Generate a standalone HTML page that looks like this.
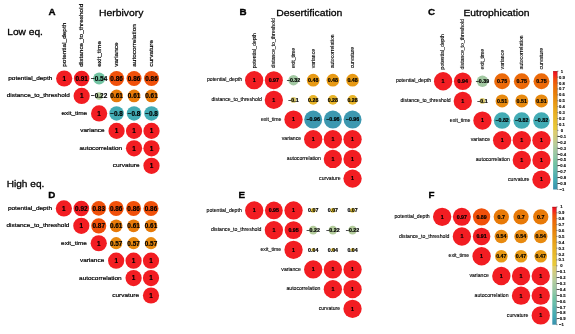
<!DOCTYPE html>
<html><head><meta charset="utf-8"><style>
html,body{margin:0;padding:0;background:#fff;}
body{width:575px;height:334px;overflow:hidden;}
svg{display:block;font-family:"Liberation Sans",Arial,sans-serif;fill:#000;}
.n{stroke:#000;stroke-width:0.18;}
.l{stroke:#000;stroke-width:0.22;}
.s{stroke:#000;stroke-width:0.12;}
.g{stroke:#000;stroke-width:0.1;}
.t{stroke:#000;stroke-width:0.35;}
.h{stroke:#000;stroke-width:0.3;}
</style></head><body>
<svg width="575" height="334" viewBox="0 0 575 334">
<text class="l" transform="translate(65.94,66.77) rotate(-90) scale(1,0.88)" font-size="6.45">potential_depth</text>
<text class="l" transform="translate(83.40,66.77) rotate(-90) scale(1,0.88)" font-size="6.45">distance_to_threshold</text>
<text class="l" transform="translate(100.86,66.77) rotate(-90) scale(1,0.88)" font-size="6.45">exit_time</text>
<text class="l" transform="translate(118.32,66.77) rotate(-90) scale(1,0.88)" font-size="6.45">variance</text>
<text class="l" transform="translate(135.78,66.77) rotate(-90) scale(1,0.88)" font-size="6.45">autocorrelation</text>
<text class="l" transform="translate(153.24,66.77) rotate(-90) scale(1,0.88)" font-size="6.45">curvature</text>
<text class="l" transform="translate(52.27,79.92) scale(1,0.88)" font-size="6.45" text-anchor="end">potential_depth</text>
<circle cx="64.20" cy="78.50" r="8.12" fill="#F21D22"/>
<text x="64.20" y="80.77" font-size="6.40" text-anchor="middle" font-weight="bold" class="n">1</text>
<circle cx="81.66" cy="78.50" r="7.74" fill="#F21D22"/>
<text x="81.66" y="80.77" font-size="6.40" text-anchor="middle" font-weight="bold" class="n">0.91</text>
<circle cx="99.12" cy="78.50" r="5.97" fill="#72C3A2"/>
<text x="99.12" y="80.77" font-size="6.40" text-anchor="middle" font-weight="bold" class="n">−0.54</text>
<circle cx="116.58" cy="78.50" r="7.53" fill="#F0500A"/>
<text x="116.58" y="80.77" font-size="6.40" text-anchor="middle" font-weight="bold" class="n">0.86</text>
<circle cx="134.04" cy="78.50" r="7.53" fill="#F0500A"/>
<text x="134.04" y="80.77" font-size="6.40" text-anchor="middle" font-weight="bold" class="n">0.86</text>
<circle cx="151.50" cy="78.50" r="7.53" fill="#F0500A"/>
<text x="151.50" y="80.77" font-size="6.40" text-anchor="middle" font-weight="bold" class="n">0.86</text>
<text class="l" transform="translate(69.73,97.38) scale(1,0.88)" font-size="6.45" text-anchor="end">distance_to_threshold</text>
<circle cx="81.66" cy="95.96" r="8.12" fill="#F21D22"/>
<text x="81.66" y="98.23" font-size="6.40" text-anchor="middle" font-weight="bold" class="n">1</text>
<circle cx="99.12" cy="95.96" r="3.81" fill="#B4CC9C"/>
<text x="99.12" y="98.23" font-size="6.40" text-anchor="middle" font-weight="bold" class="n">−0.22</text>
<circle cx="116.58" cy="95.96" r="6.34" fill="#E87A08"/>
<text x="116.58" y="98.23" font-size="6.40" text-anchor="middle" font-weight="bold" class="n">0.61</text>
<circle cx="134.04" cy="95.96" r="6.34" fill="#E87A08"/>
<text x="134.04" y="98.23" font-size="6.40" text-anchor="middle" font-weight="bold" class="n">0.61</text>
<circle cx="151.50" cy="95.96" r="6.34" fill="#E87A08"/>
<text x="151.50" y="98.23" font-size="6.40" text-anchor="middle" font-weight="bold" class="n">0.61</text>
<text class="l" transform="translate(87.19,114.84) scale(1,0.88)" font-size="6.45" text-anchor="end">exit_time</text>
<circle cx="99.12" cy="113.42" r="8.12" fill="#F21D22"/>
<text x="99.12" y="115.69" font-size="6.40" text-anchor="middle" font-weight="bold" class="n">1</text>
<circle cx="116.58" cy="113.42" r="7.26" fill="#42ABB4"/>
<text x="116.58" y="115.69" font-size="6.40" text-anchor="middle" font-weight="bold" class="n">−0.8</text>
<circle cx="134.04" cy="113.42" r="7.26" fill="#42ABB4"/>
<text x="134.04" y="115.69" font-size="6.40" text-anchor="middle" font-weight="bold" class="n">−0.8</text>
<circle cx="151.50" cy="113.42" r="7.26" fill="#42ABB4"/>
<text x="151.50" y="115.69" font-size="6.40" text-anchor="middle" font-weight="bold" class="n">−0.8</text>
<text class="l" transform="translate(104.65,132.30) scale(1,0.88)" font-size="6.45" text-anchor="end">variance</text>
<circle cx="116.58" cy="130.88" r="8.12" fill="#F21D22"/>
<text x="116.58" y="133.15" font-size="6.40" text-anchor="middle" font-weight="bold" class="n">1</text>
<circle cx="134.04" cy="130.88" r="8.12" fill="#F21D22"/>
<text x="134.04" y="133.15" font-size="6.40" text-anchor="middle" font-weight="bold" class="n">1</text>
<circle cx="151.50" cy="130.88" r="8.12" fill="#F21D22"/>
<text x="151.50" y="133.15" font-size="6.40" text-anchor="middle" font-weight="bold" class="n">1</text>
<text class="l" transform="translate(122.11,149.76) scale(1,0.88)" font-size="6.45" text-anchor="end">autocorrelation</text>
<circle cx="134.04" cy="148.34" r="8.12" fill="#F21D22"/>
<text x="134.04" y="150.61" font-size="6.40" text-anchor="middle" font-weight="bold" class="n">1</text>
<circle cx="151.50" cy="148.34" r="8.12" fill="#F21D22"/>
<text x="151.50" y="150.61" font-size="6.40" text-anchor="middle" font-weight="bold" class="n">1</text>
<text class="l" transform="translate(139.57,167.22) scale(1,0.88)" font-size="6.45" text-anchor="end">curvature</text>
<circle cx="151.50" cy="165.80" r="8.12" fill="#F21D22"/>
<text x="151.50" y="168.07" font-size="6.40" text-anchor="middle" font-weight="bold" class="n">1</text>
<text class="s" transform="translate(255.54,68.36) rotate(-90) scale(1,0.88)" font-size="5.15">potential_depth</text>
<text class="s" transform="translate(275.22,68.36) rotate(-90) scale(1,0.88)" font-size="5.15">distance_to_threshold</text>
<text class="s" transform="translate(294.90,68.36) rotate(-90) scale(1,0.88)" font-size="5.15">exit_time</text>
<text class="s" transform="translate(314.58,68.36) rotate(-90) scale(1,0.88)" font-size="5.15">variance</text>
<text class="s" transform="translate(334.26,68.36) rotate(-90) scale(1,0.88)" font-size="5.15">autocorrelation</text>
<text class="s" transform="translate(353.94,68.36) rotate(-90) scale(1,0.88)" font-size="5.15">curvature</text>
<text class="s" transform="translate(242.11,81.33) scale(1,0.88)" font-size="5.15" text-anchor="end">potential_depth</text>
<circle cx="254.15" cy="80.20" r="9.15" fill="#F21D22"/>
<text x="254.15" y="82.08" font-size="5.30" text-anchor="middle" font-weight="bold" class="n">1</text>
<circle cx="273.83" cy="80.20" r="9.01" fill="#F21D22"/>
<text x="273.83" y="82.08" font-size="5.30" text-anchor="middle" font-weight="bold" class="n">0.97</text>
<circle cx="293.51" cy="80.20" r="5.18" fill="#A2C8A2"/>
<text x="293.51" y="82.08" font-size="5.30" text-anchor="middle" font-weight="bold" class="n">−0.32</text>
<circle cx="313.19" cy="80.20" r="6.34" fill="#E89A14"/>
<text x="313.19" y="82.08" font-size="5.30" text-anchor="middle" font-weight="bold" class="n">0.48</text>
<circle cx="332.87" cy="80.20" r="6.34" fill="#E89A14"/>
<text x="332.87" y="82.08" font-size="5.30" text-anchor="middle" font-weight="bold" class="n">0.48</text>
<circle cx="352.55" cy="80.20" r="6.34" fill="#E89A14"/>
<text x="352.55" y="82.08" font-size="5.30" text-anchor="middle" font-weight="bold" class="n">0.48</text>
<text class="s" transform="translate(261.79,101.01) scale(1,0.88)" font-size="5.15" text-anchor="end">distance_to_threshold</text>
<circle cx="273.83" cy="99.88" r="9.15" fill="#F21D22"/>
<text x="273.83" y="101.76" font-size="5.30" text-anchor="middle" font-weight="bold" class="n">1</text>
<circle cx="293.51" cy="99.88" r="2.89" fill="#DCCC70"/>
<text x="293.51" y="101.76" font-size="5.30" text-anchor="middle" font-weight="bold" class="n">−0.1</text>
<circle cx="313.19" cy="99.88" r="4.84" fill="#E8B428"/>
<text x="313.19" y="101.76" font-size="5.30" text-anchor="middle" font-weight="bold" class="n">0.28</text>
<circle cx="332.87" cy="99.88" r="4.84" fill="#E8B428"/>
<text x="332.87" y="101.76" font-size="5.30" text-anchor="middle" font-weight="bold" class="n">0.28</text>
<circle cx="352.55" cy="99.88" r="4.84" fill="#E8B428"/>
<text x="352.55" y="101.76" font-size="5.30" text-anchor="middle" font-weight="bold" class="n">0.28</text>
<text class="s" transform="translate(281.47,120.69) scale(1,0.88)" font-size="5.15" text-anchor="end">exit_time</text>
<circle cx="293.51" cy="119.56" r="9.15" fill="#F21D22"/>
<text x="293.51" y="121.44" font-size="5.30" text-anchor="middle" font-weight="bold" class="n">1</text>
<circle cx="313.19" cy="119.56" r="8.97" fill="#3C98B0"/>
<text x="313.19" y="121.44" font-size="5.30" text-anchor="middle" font-weight="bold" class="n">−0.96</text>
<circle cx="332.87" cy="119.56" r="8.97" fill="#3C98B0"/>
<text x="332.87" y="121.44" font-size="5.30" text-anchor="middle" font-weight="bold" class="n">−0.96</text>
<circle cx="352.55" cy="119.56" r="8.97" fill="#3C98B0"/>
<text x="352.55" y="121.44" font-size="5.30" text-anchor="middle" font-weight="bold" class="n">−0.96</text>
<text class="s" transform="translate(301.15,140.37) scale(1,0.88)" font-size="5.15" text-anchor="end">variance</text>
<circle cx="313.19" cy="139.24" r="9.15" fill="#F21D22"/>
<text x="313.19" y="141.12" font-size="5.30" text-anchor="middle" font-weight="bold" class="n">1</text>
<circle cx="332.87" cy="139.24" r="9.15" fill="#F21D22"/>
<text x="332.87" y="141.12" font-size="5.30" text-anchor="middle" font-weight="bold" class="n">1</text>
<circle cx="352.55" cy="139.24" r="9.15" fill="#F21D22"/>
<text x="352.55" y="141.12" font-size="5.30" text-anchor="middle" font-weight="bold" class="n">1</text>
<text class="s" transform="translate(320.83,160.05) scale(1,0.88)" font-size="5.15" text-anchor="end">autocorrelation</text>
<circle cx="332.87" cy="158.92" r="9.15" fill="#F21D22"/>
<text x="332.87" y="160.80" font-size="5.30" text-anchor="middle" font-weight="bold" class="n">1</text>
<circle cx="352.55" cy="158.92" r="9.15" fill="#F21D22"/>
<text x="352.55" y="160.80" font-size="5.30" text-anchor="middle" font-weight="bold" class="n">1</text>
<text class="s" transform="translate(340.51,179.73) scale(1,0.88)" font-size="5.15" text-anchor="end">curvature</text>
<circle cx="352.55" cy="178.60" r="9.15" fill="#F21D22"/>
<text x="352.55" y="180.48" font-size="5.30" text-anchor="middle" font-weight="bold" class="n">1</text>
<text class="s" transform="translate(444.49,69.41) rotate(-90) scale(1,0.88)" font-size="5.15">potential_depth</text>
<text class="s" transform="translate(464.16,69.41) rotate(-90) scale(1,0.88)" font-size="5.15">distance_to_threshold</text>
<text class="s" transform="translate(483.83,69.41) rotate(-90) scale(1,0.88)" font-size="5.15">exit_time</text>
<text class="s" transform="translate(503.50,69.41) rotate(-90) scale(1,0.88)" font-size="5.15">variance</text>
<text class="s" transform="translate(523.17,69.41) rotate(-90) scale(1,0.88)" font-size="5.15">autocorrelation</text>
<text class="s" transform="translate(542.84,69.41) rotate(-90) scale(1,0.88)" font-size="5.15">curvature</text>
<text class="s" transform="translate(431.07,82.38) scale(1,0.88)" font-size="5.15" text-anchor="end">potential_depth</text>
<circle cx="443.10" cy="81.25" r="9.15" fill="#F21D22"/>
<text x="443.10" y="83.13" font-size="5.30" text-anchor="middle" font-weight="bold" class="n">1</text>
<circle cx="462.77" cy="81.25" r="8.87" fill="#F21D22"/>
<text x="462.77" y="83.13" font-size="5.30" text-anchor="middle" font-weight="bold" class="n">0.94</text>
<circle cx="482.44" cy="81.25" r="5.71" fill="#A2C8A2"/>
<text x="482.44" y="83.13" font-size="5.30" text-anchor="middle" font-weight="bold" class="n">−0.39</text>
<circle cx="502.11" cy="81.25" r="7.92" fill="#EC6A0A"/>
<text x="502.11" y="83.13" font-size="5.30" text-anchor="middle" font-weight="bold" class="n">0.75</text>
<circle cx="521.78" cy="81.25" r="7.92" fill="#EC6A0A"/>
<text x="521.78" y="83.13" font-size="5.30" text-anchor="middle" font-weight="bold" class="n">0.75</text>
<circle cx="541.45" cy="81.25" r="7.92" fill="#EC6A0A"/>
<text x="541.45" y="83.13" font-size="5.30" text-anchor="middle" font-weight="bold" class="n">0.75</text>
<text class="s" transform="translate(450.74,102.05) scale(1,0.88)" font-size="5.15" text-anchor="end">distance_to_threshold</text>
<circle cx="462.77" cy="100.92" r="9.15" fill="#F21D22"/>
<text x="462.77" y="102.80" font-size="5.30" text-anchor="middle" font-weight="bold" class="n">1</text>
<circle cx="482.44" cy="100.92" r="2.89" fill="#DCCC70"/>
<text x="482.44" y="102.80" font-size="5.30" text-anchor="middle" font-weight="bold" class="n">−0.1</text>
<circle cx="502.11" cy="100.92" r="6.53" fill="#E88A10"/>
<text x="502.11" y="102.80" font-size="5.30" text-anchor="middle" font-weight="bold" class="n">0.51</text>
<circle cx="521.78" cy="100.92" r="6.53" fill="#E88A10"/>
<text x="521.78" y="102.80" font-size="5.30" text-anchor="middle" font-weight="bold" class="n">0.51</text>
<circle cx="541.45" cy="100.92" r="6.53" fill="#E88A10"/>
<text x="541.45" y="102.80" font-size="5.30" text-anchor="middle" font-weight="bold" class="n">0.51</text>
<text class="s" transform="translate(470.41,121.72) scale(1,0.88)" font-size="5.15" text-anchor="end">exit_time</text>
<circle cx="482.44" cy="120.59" r="9.15" fill="#F21D22"/>
<text x="482.44" y="122.47" font-size="5.30" text-anchor="middle" font-weight="bold" class="n">1</text>
<circle cx="502.11" cy="120.59" r="8.28" fill="#42ABB4"/>
<text x="502.11" y="122.47" font-size="5.30" text-anchor="middle" font-weight="bold" class="n">−0.82</text>
<circle cx="521.78" cy="120.59" r="8.28" fill="#42ABB4"/>
<text x="521.78" y="122.47" font-size="5.30" text-anchor="middle" font-weight="bold" class="n">−0.82</text>
<circle cx="541.45" cy="120.59" r="8.28" fill="#42ABB4"/>
<text x="541.45" y="122.47" font-size="5.30" text-anchor="middle" font-weight="bold" class="n">−0.82</text>
<text class="s" transform="translate(490.08,141.39) scale(1,0.88)" font-size="5.15" text-anchor="end">variance</text>
<circle cx="502.11" cy="140.26" r="9.15" fill="#F21D22"/>
<text x="502.11" y="142.14" font-size="5.30" text-anchor="middle" font-weight="bold" class="n">1</text>
<circle cx="521.78" cy="140.26" r="9.15" fill="#F21D22"/>
<text x="521.78" y="142.14" font-size="5.30" text-anchor="middle" font-weight="bold" class="n">1</text>
<circle cx="541.45" cy="140.26" r="9.15" fill="#F21D22"/>
<text x="541.45" y="142.14" font-size="5.30" text-anchor="middle" font-weight="bold" class="n">1</text>
<text class="s" transform="translate(509.75,161.06) scale(1,0.88)" font-size="5.15" text-anchor="end">autocorrelation</text>
<circle cx="521.78" cy="159.93" r="9.15" fill="#F21D22"/>
<text x="521.78" y="161.81" font-size="5.30" text-anchor="middle" font-weight="bold" class="n">1</text>
<circle cx="541.45" cy="159.93" r="9.15" fill="#F21D22"/>
<text x="541.45" y="161.81" font-size="5.30" text-anchor="middle" font-weight="bold" class="n">1</text>
<text class="s" transform="translate(529.41,180.73) scale(1,0.88)" font-size="5.15" text-anchor="end">curvature</text>
<circle cx="541.45" cy="179.60" r="9.15" fill="#F21D22"/>
<text x="541.45" y="181.48" font-size="5.30" text-anchor="middle" font-weight="bold" class="n">1</text>
<text class="l" transform="translate(51.99,209.82) scale(1,0.88)" font-size="6.45" text-anchor="end">potential_depth</text>
<circle cx="63.90" cy="208.40" r="8.10" fill="#F21D22"/>
<text x="63.90" y="210.67" font-size="6.40" text-anchor="middle" font-weight="bold" class="n">1</text>
<circle cx="81.32" cy="208.40" r="7.77" fill="#F21D22"/>
<text x="81.32" y="210.67" font-size="6.40" text-anchor="middle" font-weight="bold" class="n">0.92</text>
<circle cx="98.74" cy="208.40" r="7.38" fill="#F0500A"/>
<text x="98.74" y="210.67" font-size="6.40" text-anchor="middle" font-weight="bold" class="n">0.83</text>
<circle cx="116.16" cy="208.40" r="7.51" fill="#F0500A"/>
<text x="116.16" y="210.67" font-size="6.40" text-anchor="middle" font-weight="bold" class="n">0.86</text>
<circle cx="133.58" cy="208.40" r="7.51" fill="#F0500A"/>
<text x="133.58" y="210.67" font-size="6.40" text-anchor="middle" font-weight="bold" class="n">0.86</text>
<circle cx="151.00" cy="208.40" r="7.51" fill="#F0500A"/>
<text x="151.00" y="210.67" font-size="6.40" text-anchor="middle" font-weight="bold" class="n">0.86</text>
<text class="l" transform="translate(69.41,227.24) scale(1,0.88)" font-size="6.45" text-anchor="end">distance_to_threshold</text>
<circle cx="81.32" cy="225.82" r="8.10" fill="#F21D22"/>
<text x="81.32" y="228.09" font-size="6.40" text-anchor="middle" font-weight="bold" class="n">1</text>
<circle cx="98.74" cy="225.82" r="7.56" fill="#F0500A"/>
<text x="98.74" y="228.09" font-size="6.40" text-anchor="middle" font-weight="bold" class="n">0.87</text>
<circle cx="116.16" cy="225.82" r="6.33" fill="#E87A08"/>
<text x="116.16" y="228.09" font-size="6.40" text-anchor="middle" font-weight="bold" class="n">0.61</text>
<circle cx="133.58" cy="225.82" r="6.33" fill="#E87A08"/>
<text x="133.58" y="228.09" font-size="6.40" text-anchor="middle" font-weight="bold" class="n">0.61</text>
<circle cx="151.00" cy="225.82" r="6.33" fill="#E87A08"/>
<text x="151.00" y="228.09" font-size="6.40" text-anchor="middle" font-weight="bold" class="n">0.61</text>
<text class="l" transform="translate(86.83,244.66) scale(1,0.88)" font-size="6.45" text-anchor="end">exit_time</text>
<circle cx="98.74" cy="243.24" r="8.10" fill="#F21D22"/>
<text x="98.74" y="245.51" font-size="6.40" text-anchor="middle" font-weight="bold" class="n">1</text>
<circle cx="116.16" cy="243.24" r="6.12" fill="#E88A10"/>
<text x="116.16" y="245.51" font-size="6.40" text-anchor="middle" font-weight="bold" class="n">0.57</text>
<circle cx="133.58" cy="243.24" r="6.12" fill="#E88A10"/>
<text x="133.58" y="245.51" font-size="6.40" text-anchor="middle" font-weight="bold" class="n">0.57</text>
<circle cx="151.00" cy="243.24" r="6.12" fill="#E88A10"/>
<text x="151.00" y="245.51" font-size="6.40" text-anchor="middle" font-weight="bold" class="n">0.57</text>
<text class="l" transform="translate(104.25,262.08) scale(1,0.88)" font-size="6.45" text-anchor="end">variance</text>
<circle cx="116.16" cy="260.66" r="8.10" fill="#F21D22"/>
<text x="116.16" y="262.93" font-size="6.40" text-anchor="middle" font-weight="bold" class="n">1</text>
<circle cx="133.58" cy="260.66" r="8.10" fill="#F21D22"/>
<text x="133.58" y="262.93" font-size="6.40" text-anchor="middle" font-weight="bold" class="n">1</text>
<circle cx="151.00" cy="260.66" r="8.10" fill="#F21D22"/>
<text x="151.00" y="262.93" font-size="6.40" text-anchor="middle" font-weight="bold" class="n">1</text>
<text class="l" transform="translate(121.67,279.50) scale(1,0.88)" font-size="6.45" text-anchor="end">autocorrelation</text>
<circle cx="133.58" cy="278.08" r="8.10" fill="#F21D22"/>
<text x="133.58" y="280.35" font-size="6.40" text-anchor="middle" font-weight="bold" class="n">1</text>
<circle cx="151.00" cy="278.08" r="8.10" fill="#F21D22"/>
<text x="151.00" y="280.35" font-size="6.40" text-anchor="middle" font-weight="bold" class="n">1</text>
<text class="l" transform="translate(139.09,296.92) scale(1,0.88)" font-size="6.45" text-anchor="end">curvature</text>
<circle cx="151.00" cy="295.50" r="8.10" fill="#F21D22"/>
<text x="151.00" y="297.77" font-size="6.40" text-anchor="middle" font-weight="bold" class="n">1</text>
<text class="s" transform="translate(241.76,211.58) scale(1,0.88)" font-size="5.15" text-anchor="end">potential_depth</text>
<circle cx="254.20" cy="210.45" r="9.15" fill="#F21D22"/>
<text x="254.20" y="212.33" font-size="5.30" text-anchor="middle" font-weight="bold" class="n">1</text>
<circle cx="273.87" cy="210.45" r="8.91" fill="#F21D22"/>
<text x="273.87" y="212.33" font-size="5.30" text-anchor="middle" font-weight="bold" class="n">0.95</text>
<circle cx="293.54" cy="210.45" r="9.15" fill="#F21D22"/>
<text x="293.54" y="212.33" font-size="5.30" text-anchor="middle" font-weight="bold" class="n">1</text>
<circle cx="313.21" cy="210.45" r="2.42" fill="#E8C838"/>
<text x="313.21" y="212.33" font-size="5.30" text-anchor="middle" font-weight="bold" class="n">0.07</text>
<circle cx="332.88" cy="210.45" r="2.42" fill="#E8C838"/>
<text x="332.88" y="212.33" font-size="5.30" text-anchor="middle" font-weight="bold" class="n">0.07</text>
<circle cx="352.55" cy="210.45" r="2.42" fill="#E8C838"/>
<text x="352.55" y="212.33" font-size="5.30" text-anchor="middle" font-weight="bold" class="n">0.07</text>
<text class="s" transform="translate(261.44,231.25) scale(1,0.88)" font-size="5.15" text-anchor="end">distance_to_threshold</text>
<circle cx="273.87" cy="230.12" r="9.15" fill="#F21D22"/>
<text x="273.87" y="232.00" font-size="5.30" text-anchor="middle" font-weight="bold" class="n">1</text>
<circle cx="293.54" cy="230.12" r="8.91" fill="#F21D22"/>
<text x="293.54" y="232.00" font-size="5.30" text-anchor="middle" font-weight="bold" class="n">0.95</text>
<circle cx="313.21" cy="230.12" r="4.29" fill="#B4CC9C"/>
<text x="313.21" y="232.00" font-size="5.30" text-anchor="middle" font-weight="bold" class="n">−0.22</text>
<circle cx="332.88" cy="230.12" r="4.29" fill="#B4CC9C"/>
<text x="332.88" y="232.00" font-size="5.30" text-anchor="middle" font-weight="bold" class="n">−0.22</text>
<circle cx="352.55" cy="230.12" r="4.29" fill="#B4CC9C"/>
<text x="352.55" y="232.00" font-size="5.30" text-anchor="middle" font-weight="bold" class="n">−0.22</text>
<text class="s" transform="translate(281.10,250.92) scale(1,0.88)" font-size="5.15" text-anchor="end">exit_time</text>
<circle cx="293.54" cy="249.79" r="9.15" fill="#F21D22"/>
<text x="293.54" y="251.67" font-size="5.30" text-anchor="middle" font-weight="bold" class="n">1</text>
<circle cx="313.21" cy="249.79" r="1.83" fill="#E8C838"/>
<text x="313.21" y="251.67" font-size="5.30" text-anchor="middle" font-weight="bold" class="n">0.04</text>
<circle cx="332.88" cy="249.79" r="1.83" fill="#E8C838"/>
<text x="332.88" y="251.67" font-size="5.30" text-anchor="middle" font-weight="bold" class="n">0.04</text>
<circle cx="352.55" cy="249.79" r="1.83" fill="#E8C838"/>
<text x="352.55" y="251.67" font-size="5.30" text-anchor="middle" font-weight="bold" class="n">0.04</text>
<text class="s" transform="translate(300.77,270.59) scale(1,0.88)" font-size="5.15" text-anchor="end">variance</text>
<circle cx="313.21" cy="269.46" r="9.15" fill="#F21D22"/>
<text x="313.21" y="271.34" font-size="5.30" text-anchor="middle" font-weight="bold" class="n">1</text>
<circle cx="332.88" cy="269.46" r="9.15" fill="#F21D22"/>
<text x="332.88" y="271.34" font-size="5.30" text-anchor="middle" font-weight="bold" class="n">1</text>
<circle cx="352.55" cy="269.46" r="9.15" fill="#F21D22"/>
<text x="352.55" y="271.34" font-size="5.30" text-anchor="middle" font-weight="bold" class="n">1</text>
<text class="s" transform="translate(320.44,290.26) scale(1,0.88)" font-size="5.15" text-anchor="end">autocorrelation</text>
<circle cx="332.88" cy="289.13" r="9.15" fill="#F21D22"/>
<text x="332.88" y="291.01" font-size="5.30" text-anchor="middle" font-weight="bold" class="n">1</text>
<circle cx="352.55" cy="289.13" r="9.15" fill="#F21D22"/>
<text x="352.55" y="291.01" font-size="5.30" text-anchor="middle" font-weight="bold" class="n">1</text>
<text class="s" transform="translate(340.12,309.93) scale(1,0.88)" font-size="5.15" text-anchor="end">curvature</text>
<circle cx="352.55" cy="308.80" r="9.15" fill="#F21D22"/>
<text x="352.55" y="310.68" font-size="5.30" text-anchor="middle" font-weight="bold" class="n">1</text>
<text class="s" transform="translate(429.69,217.93) scale(1,0.88)" font-size="5.15" text-anchor="end">potential_depth</text>
<circle cx="442.15" cy="216.80" r="9.17" fill="#F21D22"/>
<text x="442.15" y="218.68" font-size="5.30" text-anchor="middle" font-weight="bold" class="n">1</text>
<circle cx="461.87" cy="216.80" r="9.03" fill="#F21D22"/>
<text x="461.87" y="218.68" font-size="5.30" text-anchor="middle" font-weight="bold" class="n">0.97</text>
<circle cx="481.59" cy="216.80" r="8.65" fill="#F0500A"/>
<text x="481.59" y="218.68" font-size="5.30" text-anchor="middle" font-weight="bold" class="n">0.89</text>
<circle cx="501.31" cy="216.80" r="7.67" fill="#E87A08"/>
<text x="501.31" y="218.68" font-size="5.30" text-anchor="middle" font-weight="bold" class="n">0.7</text>
<circle cx="521.03" cy="216.80" r="7.67" fill="#E87A08"/>
<text x="521.03" y="218.68" font-size="5.30" text-anchor="middle" font-weight="bold" class="n">0.7</text>
<circle cx="540.75" cy="216.80" r="7.67" fill="#E87A08"/>
<text x="540.75" y="218.68" font-size="5.30" text-anchor="middle" font-weight="bold" class="n">0.7</text>
<text class="s" transform="translate(449.41,237.65) scale(1,0.88)" font-size="5.15" text-anchor="end">distance_to_threshold</text>
<circle cx="461.87" cy="236.52" r="9.17" fill="#F21D22"/>
<text x="461.87" y="238.40" font-size="5.30" text-anchor="middle" font-weight="bold" class="n">1</text>
<circle cx="481.59" cy="236.52" r="8.75" fill="#F21D22"/>
<text x="481.59" y="238.40" font-size="5.30" text-anchor="middle" font-weight="bold" class="n">0.91</text>
<circle cx="501.31" cy="236.52" r="6.74" fill="#E88A10"/>
<text x="501.31" y="238.40" font-size="5.30" text-anchor="middle" font-weight="bold" class="n">0.54</text>
<circle cx="521.03" cy="236.52" r="6.74" fill="#E88A10"/>
<text x="521.03" y="238.40" font-size="5.30" text-anchor="middle" font-weight="bold" class="n">0.54</text>
<circle cx="540.75" cy="236.52" r="6.74" fill="#E88A10"/>
<text x="540.75" y="238.40" font-size="5.30" text-anchor="middle" font-weight="bold" class="n">0.54</text>
<text class="s" transform="translate(469.13,257.37) scale(1,0.88)" font-size="5.15" text-anchor="end">exit_time</text>
<circle cx="481.59" cy="256.24" r="9.17" fill="#F21D22"/>
<text x="481.59" y="258.12" font-size="5.30" text-anchor="middle" font-weight="bold" class="n">1</text>
<circle cx="501.31" cy="256.24" r="6.29" fill="#E89A14"/>
<text x="501.31" y="258.12" font-size="5.30" text-anchor="middle" font-weight="bold" class="n">0.47</text>
<circle cx="521.03" cy="256.24" r="6.29" fill="#E89A14"/>
<text x="521.03" y="258.12" font-size="5.30" text-anchor="middle" font-weight="bold" class="n">0.47</text>
<circle cx="540.75" cy="256.24" r="6.29" fill="#E89A14"/>
<text x="540.75" y="258.12" font-size="5.30" text-anchor="middle" font-weight="bold" class="n">0.47</text>
<text class="s" transform="translate(488.85,277.09) scale(1,0.88)" font-size="5.15" text-anchor="end">variance</text>
<circle cx="501.31" cy="275.96" r="9.17" fill="#F21D22"/>
<text x="501.31" y="277.84" font-size="5.30" text-anchor="middle" font-weight="bold" class="n">1</text>
<circle cx="521.03" cy="275.96" r="9.17" fill="#F21D22"/>
<text x="521.03" y="277.84" font-size="5.30" text-anchor="middle" font-weight="bold" class="n">1</text>
<circle cx="540.75" cy="275.96" r="9.17" fill="#F21D22"/>
<text x="540.75" y="277.84" font-size="5.30" text-anchor="middle" font-weight="bold" class="n">1</text>
<text class="s" transform="translate(508.57,296.81) scale(1,0.88)" font-size="5.15" text-anchor="end">autocorrelation</text>
<circle cx="521.03" cy="295.68" r="9.17" fill="#F21D22"/>
<text x="521.03" y="297.56" font-size="5.30" text-anchor="middle" font-weight="bold" class="n">1</text>
<circle cx="540.75" cy="295.68" r="9.17" fill="#F21D22"/>
<text x="540.75" y="297.56" font-size="5.30" text-anchor="middle" font-weight="bold" class="n">1</text>
<text class="s" transform="translate(528.29,316.53) scale(1,0.88)" font-size="5.15" text-anchor="end">curvature</text>
<circle cx="540.75" cy="315.40" r="9.17" fill="#F21D22"/>
<text x="540.75" y="317.28" font-size="5.30" text-anchor="middle" font-weight="bold" class="n">1</text>
<text x="48.40" y="15.30" font-size="9.80" font-weight="bold" class="t">A</text>
<text x="239.60" y="15.20" font-size="9.80" font-weight="bold" class="t">B</text>
<text x="428.00" y="15.00" font-size="9.80" font-weight="bold" class="t">C</text>
<text x="48.20" y="198.00" font-size="9.80" font-weight="bold" class="t">D</text>
<text x="238.60" y="198.00" font-size="9.80" font-weight="bold" class="t">E</text>
<text x="428.60" y="197.60" font-size="9.80" font-weight="bold" class="t">F</text>
<text class="h" transform="translate(98.90,15.70) scale(1,0.93)" font-size="10.40">Herbivory</text>
<text class="h" transform="translate(276.20,15.65) scale(1,0.93)" font-size="10.45">Desertification</text>
<text class="h" transform="translate(463.40,15.65) scale(1,0.93)" font-size="10.35">Eutrophication</text>
<text class="h" transform="translate(7.30,34.80) scale(1,0.93)" font-size="10.20">Low eq.</text>
<text class="h" transform="translate(6.70,186.80) scale(1,0.93)" font-size="10.10">High eq.</text>
<defs><linearGradient id="lg71" x1="0" y1="0" x2="0" y2="1"><stop offset="0" stop-color="#E0101C"/><stop offset="0.0250" stop-color="#F21D22"/><stop offset="0.0750" stop-color="#F0500A"/><stop offset="0.1250" stop-color="#EC6A0A"/><stop offset="0.1750" stop-color="#E87A08"/><stop offset="0.2250" stop-color="#E88A10"/><stop offset="0.2750" stop-color="#E89A14"/><stop offset="0.3250" stop-color="#E8A81E"/><stop offset="0.3750" stop-color="#E8B428"/><stop offset="0.4250" stop-color="#E8BE30"/><stop offset="0.4750" stop-color="#E8C838"/><stop offset="0.5000" stop-color="#E8C838"/><stop offset="0.5000" stop-color="#DCCC70"/><stop offset="0.5250" stop-color="#DCCC70"/><stop offset="0.5750" stop-color="#C8CC88"/><stop offset="0.6250" stop-color="#B4CC9C"/><stop offset="0.6750" stop-color="#A2C8A2"/><stop offset="0.7250" stop-color="#90C8A6"/><stop offset="0.7750" stop-color="#72C3A2"/><stop offset="0.8250" stop-color="#68BCAC"/><stop offset="0.8750" stop-color="#54B0B0"/><stop offset="0.9250" stop-color="#42ABB4"/><stop offset="0.9750" stop-color="#3C98B0"/><stop offset="1" stop-color="#3990AC"/></linearGradient></defs>
<rect x="553.10" y="71.20" width="4.30" height="118.30" fill="url(#lg71)"/>
<rect x="553.10" y="71.20" width="4.30" height="0.6" fill="#B0141A"/>
<line x1="557.40" x2="557.40" y1="71.20" y2="189.50" stroke="#666" stroke-width="0.35"/>
<line x1="557.40" x2="558.40" y1="71.20" y2="71.20" stroke="#000" stroke-width="0.5"/>
<text x="562.00" y="72.69" font-size="4.20" text-anchor="middle" font-weight="bold" class="g">1</text>
<line x1="557.40" x2="558.40" y1="77.12" y2="77.12" stroke="#000" stroke-width="0.5"/>
<text x="562.00" y="78.61" font-size="4.20" text-anchor="middle" font-weight="bold" class="g">0.9</text>
<line x1="557.40" x2="558.40" y1="83.03" y2="83.03" stroke="#000" stroke-width="0.5"/>
<text x="562.00" y="84.52" font-size="4.20" text-anchor="middle" font-weight="bold" class="g">0.8</text>
<line x1="557.40" x2="558.40" y1="88.94" y2="88.94" stroke="#000" stroke-width="0.5"/>
<text x="562.00" y="90.44" font-size="4.20" text-anchor="middle" font-weight="bold" class="g">0.7</text>
<line x1="557.40" x2="558.40" y1="94.86" y2="94.86" stroke="#000" stroke-width="0.5"/>
<text x="562.00" y="96.35" font-size="4.20" text-anchor="middle" font-weight="bold" class="g">0.6</text>
<line x1="557.40" x2="558.40" y1="100.78" y2="100.78" stroke="#000" stroke-width="0.5"/>
<text x="562.00" y="102.27" font-size="4.20" text-anchor="middle" font-weight="bold" class="g">0.5</text>
<line x1="557.40" x2="558.40" y1="106.69" y2="106.69" stroke="#000" stroke-width="0.5"/>
<text x="562.00" y="108.18" font-size="4.20" text-anchor="middle" font-weight="bold" class="g">0.4</text>
<line x1="557.40" x2="558.40" y1="112.61" y2="112.61" stroke="#000" stroke-width="0.5"/>
<text x="562.00" y="114.10" font-size="4.20" text-anchor="middle" font-weight="bold" class="g">0.3</text>
<line x1="557.40" x2="558.40" y1="118.52" y2="118.52" stroke="#000" stroke-width="0.5"/>
<text x="562.00" y="120.01" font-size="4.20" text-anchor="middle" font-weight="bold" class="g">0.2</text>
<line x1="557.40" x2="558.40" y1="124.44" y2="124.44" stroke="#000" stroke-width="0.5"/>
<text x="562.00" y="125.93" font-size="4.20" text-anchor="middle" font-weight="bold" class="g">0.1</text>
<line x1="557.40" x2="558.40" y1="130.35" y2="130.35" stroke="#000" stroke-width="0.5"/>
<text x="562.00" y="131.84" font-size="4.20" text-anchor="middle" font-weight="bold" class="g">0</text>
<line x1="557.40" x2="558.40" y1="136.26" y2="136.26" stroke="#000" stroke-width="0.5"/>
<text x="562.00" y="137.76" font-size="4.20" text-anchor="middle" font-weight="bold" class="g">−0.1</text>
<line x1="557.40" x2="558.40" y1="142.18" y2="142.18" stroke="#000" stroke-width="0.5"/>
<text x="562.00" y="143.67" font-size="4.20" text-anchor="middle" font-weight="bold" class="g">−0.2</text>
<line x1="557.40" x2="558.40" y1="148.09" y2="148.09" stroke="#000" stroke-width="0.5"/>
<text x="562.00" y="149.59" font-size="4.20" text-anchor="middle" font-weight="bold" class="g">−0.3</text>
<line x1="557.40" x2="558.40" y1="154.01" y2="154.01" stroke="#000" stroke-width="0.5"/>
<text x="562.00" y="155.50" font-size="4.20" text-anchor="middle" font-weight="bold" class="g">−0.4</text>
<line x1="557.40" x2="558.40" y1="159.93" y2="159.93" stroke="#000" stroke-width="0.5"/>
<text x="562.00" y="161.42" font-size="4.20" text-anchor="middle" font-weight="bold" class="g">−0.5</text>
<line x1="557.40" x2="558.40" y1="165.84" y2="165.84" stroke="#000" stroke-width="0.5"/>
<text x="562.00" y="167.33" font-size="4.20" text-anchor="middle" font-weight="bold" class="g">−0.6</text>
<line x1="557.40" x2="558.40" y1="171.75" y2="171.75" stroke="#000" stroke-width="0.5"/>
<text x="562.00" y="173.25" font-size="4.20" text-anchor="middle" font-weight="bold" class="g">−0.7</text>
<line x1="557.40" x2="558.40" y1="177.67" y2="177.67" stroke="#000" stroke-width="0.5"/>
<text x="562.00" y="179.16" font-size="4.20" text-anchor="middle" font-weight="bold" class="g">−0.8</text>
<line x1="557.40" x2="558.40" y1="183.58" y2="183.58" stroke="#000" stroke-width="0.5"/>
<text x="562.00" y="185.08" font-size="4.20" text-anchor="middle" font-weight="bold" class="g">−0.9</text>
<line x1="557.40" x2="558.40" y1="189.50" y2="189.50" stroke="#000" stroke-width="0.5"/>
<text x="562.00" y="190.99" font-size="4.20" text-anchor="middle" font-weight="bold" class="g">−1</text>
<defs><linearGradient id="lg206" x1="0" y1="0" x2="0" y2="1"><stop offset="0" stop-color="#E0101C"/><stop offset="0.0250" stop-color="#F21D22"/><stop offset="0.0750" stop-color="#F0500A"/><stop offset="0.1250" stop-color="#EC6A0A"/><stop offset="0.1750" stop-color="#E87A08"/><stop offset="0.2250" stop-color="#E88A10"/><stop offset="0.2750" stop-color="#E89A14"/><stop offset="0.3250" stop-color="#E8A81E"/><stop offset="0.3750" stop-color="#E8B428"/><stop offset="0.4250" stop-color="#E8BE30"/><stop offset="0.4750" stop-color="#E8C838"/><stop offset="0.5000" stop-color="#E8C838"/><stop offset="0.5000" stop-color="#DCCC70"/><stop offset="0.5250" stop-color="#DCCC70"/><stop offset="0.5750" stop-color="#C8CC88"/><stop offset="0.6250" stop-color="#B4CC9C"/><stop offset="0.6750" stop-color="#A2C8A2"/><stop offset="0.7250" stop-color="#90C8A6"/><stop offset="0.7750" stop-color="#72C3A2"/><stop offset="0.8250" stop-color="#68BCAC"/><stop offset="0.8750" stop-color="#54B0B0"/><stop offset="0.9250" stop-color="#42ABB4"/><stop offset="0.9750" stop-color="#3C98B0"/><stop offset="1" stop-color="#3990AC"/></linearGradient></defs>
<rect x="552.30" y="206.90" width="4.20" height="117.80" fill="url(#lg206)"/>
<rect x="552.30" y="206.90" width="4.20" height="0.6" fill="#B0141A"/>
<line x1="556.50" x2="556.50" y1="206.90" y2="324.70" stroke="#666" stroke-width="0.35"/>
<line x1="556.50" x2="557.50" y1="206.90" y2="206.90" stroke="#000" stroke-width="0.5"/>
<text x="561.50" y="208.39" font-size="4.20" text-anchor="middle" font-weight="bold" class="g">1</text>
<line x1="556.50" x2="557.50" y1="212.79" y2="212.79" stroke="#000" stroke-width="0.5"/>
<text x="561.50" y="214.28" font-size="4.20" text-anchor="middle" font-weight="bold" class="g">0.9</text>
<line x1="556.50" x2="557.50" y1="218.68" y2="218.68" stroke="#000" stroke-width="0.5"/>
<text x="561.50" y="220.17" font-size="4.20" text-anchor="middle" font-weight="bold" class="g">0.8</text>
<line x1="556.50" x2="557.50" y1="224.57" y2="224.57" stroke="#000" stroke-width="0.5"/>
<text x="561.50" y="226.06" font-size="4.20" text-anchor="middle" font-weight="bold" class="g">0.7</text>
<line x1="556.50" x2="557.50" y1="230.46" y2="230.46" stroke="#000" stroke-width="0.5"/>
<text x="561.50" y="231.95" font-size="4.20" text-anchor="middle" font-weight="bold" class="g">0.6</text>
<line x1="556.50" x2="557.50" y1="236.35" y2="236.35" stroke="#000" stroke-width="0.5"/>
<text x="561.50" y="237.84" font-size="4.20" text-anchor="middle" font-weight="bold" class="g">0.5</text>
<line x1="556.50" x2="557.50" y1="242.24" y2="242.24" stroke="#000" stroke-width="0.5"/>
<text x="561.50" y="243.73" font-size="4.20" text-anchor="middle" font-weight="bold" class="g">0.4</text>
<line x1="556.50" x2="557.50" y1="248.13" y2="248.13" stroke="#000" stroke-width="0.5"/>
<text x="561.50" y="249.62" font-size="4.20" text-anchor="middle" font-weight="bold" class="g">0.3</text>
<line x1="556.50" x2="557.50" y1="254.02" y2="254.02" stroke="#000" stroke-width="0.5"/>
<text x="561.50" y="255.51" font-size="4.20" text-anchor="middle" font-weight="bold" class="g">0.2</text>
<line x1="556.50" x2="557.50" y1="259.91" y2="259.91" stroke="#000" stroke-width="0.5"/>
<text x="561.50" y="261.40" font-size="4.20" text-anchor="middle" font-weight="bold" class="g">0.1</text>
<line x1="556.50" x2="557.50" y1="265.80" y2="265.80" stroke="#000" stroke-width="0.5"/>
<text x="561.50" y="267.29" font-size="4.20" text-anchor="middle" font-weight="bold" class="g">0</text>
<line x1="556.50" x2="557.50" y1="271.69" y2="271.69" stroke="#000" stroke-width="0.5"/>
<text x="561.50" y="273.18" font-size="4.20" text-anchor="middle" font-weight="bold" class="g">−0.1</text>
<line x1="556.50" x2="557.50" y1="277.58" y2="277.58" stroke="#000" stroke-width="0.5"/>
<text x="561.50" y="279.07" font-size="4.20" text-anchor="middle" font-weight="bold" class="g">−0.2</text>
<line x1="556.50" x2="557.50" y1="283.47" y2="283.47" stroke="#000" stroke-width="0.5"/>
<text x="561.50" y="284.96" font-size="4.20" text-anchor="middle" font-weight="bold" class="g">−0.3</text>
<line x1="556.50" x2="557.50" y1="289.36" y2="289.36" stroke="#000" stroke-width="0.5"/>
<text x="561.50" y="290.85" font-size="4.20" text-anchor="middle" font-weight="bold" class="g">−0.4</text>
<line x1="556.50" x2="557.50" y1="295.25" y2="295.25" stroke="#000" stroke-width="0.5"/>
<text x="561.50" y="296.74" font-size="4.20" text-anchor="middle" font-weight="bold" class="g">−0.5</text>
<line x1="556.50" x2="557.50" y1="301.14" y2="301.14" stroke="#000" stroke-width="0.5"/>
<text x="561.50" y="302.63" font-size="4.20" text-anchor="middle" font-weight="bold" class="g">−0.6</text>
<line x1="556.50" x2="557.50" y1="307.03" y2="307.03" stroke="#000" stroke-width="0.5"/>
<text x="561.50" y="308.52" font-size="4.20" text-anchor="middle" font-weight="bold" class="g">−0.7</text>
<line x1="556.50" x2="557.50" y1="312.92" y2="312.92" stroke="#000" stroke-width="0.5"/>
<text x="561.50" y="314.41" font-size="4.20" text-anchor="middle" font-weight="bold" class="g">−0.8</text>
<line x1="556.50" x2="557.50" y1="318.81" y2="318.81" stroke="#000" stroke-width="0.5"/>
<text x="561.50" y="320.30" font-size="4.20" text-anchor="middle" font-weight="bold" class="g">−0.9</text>
<line x1="556.50" x2="557.50" y1="324.70" y2="324.70" stroke="#000" stroke-width="0.5"/>
<text x="561.50" y="326.19" font-size="4.20" text-anchor="middle" font-weight="bold" class="g">−1</text>
</svg>
</body></html>
